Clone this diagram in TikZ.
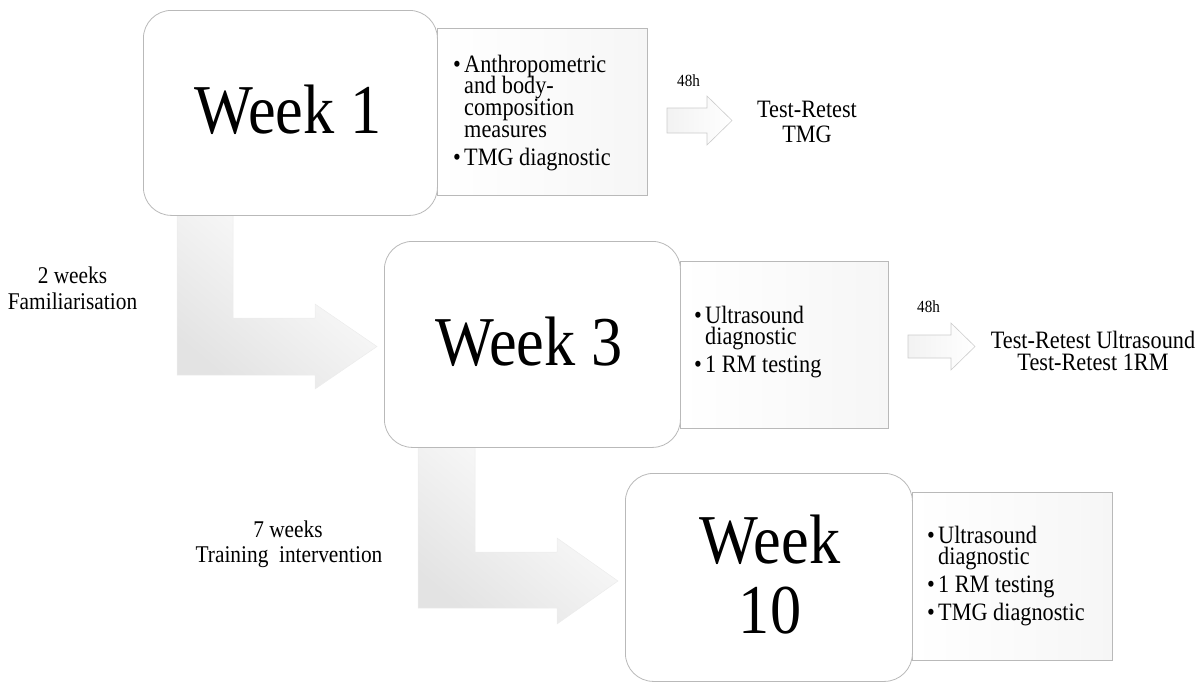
\documentclass[tikz,border=0pt]{standalone}
\usepackage{fontspec}
\setmainfont{Liberation Serif}[FakeStretch=0.89]
\newcommand{\lstfont}{\fontsize{25}{21.7}\selectfont\lineskiplimit=-\maxdimen\lineskip=0pt\raggedright}
\newcommand{\bul}{\makebox[11pt][l]{\textbullet}}
\newcommand{\ind}{\hspace*{11pt}}
\begin{document}
\begin{tikzpicture}[x=1pt,y=-1pt,
  wbox/.style={draw=gray!55, fill=white, rounded corners=28pt, line width=0.8pt, inner sep=0pt, anchor=north west},
  lbox/.style={draw=gray!55, line width=0.7pt, left color=white, right color=gray!7, inner sep=0pt, anchor=north west},
  larrow/.style={draw=gray!15, line width=0.5pt, top color=white, bottom color=gray!22, shading angle=-40},
  sarrow/.style={draw=gray!40, line width=0.6pt, left color=gray!10, right color=white},
  big/.style={font=\fontsize{70}{70}\selectfont, inner sep=0pt, anchor=base},
  mid/.style={font=\fontsize{25}{22}\selectfont, inner sep=0pt, anchor=base},
  lab/.style={font=\fontsize{24}{24}\selectfont, inner sep=0pt, anchor=base},
  tiny/.style={font=\fontsize{17}{17}\selectfont, inner sep=0pt, anchor=base west},
  lst/.style={inner sep=0pt, anchor=base west}
]
\useasboundingbox (0,0) rectangle (1200,689);

% L-shaped block arrows
\path[larrow] (177,212) -- (233,212) -- (233,318) -- (315,318) -- (315,304) -- (377,346.5)
  -- (315,389) -- (315,375) -- (177,375) -- cycle;
\path[larrow] (418,444) -- (475,444) -- (475,552) -- (557,552) -- (557,538) -- (618,581)
  -- (557,624) -- (557,608) -- (418,608) -- cycle;

% list boxes
\node[lbox, minimum width=210pt, minimum height=167pt] (l1) at (437,28) {};
\node[lbox, minimum width=208pt, minimum height=167pt] (l3) at (680,261) {};
\node[lbox, minimum width=200pt, minimum height=168pt] (l10) at (912,492) {};

% week boxes
\node[wbox, minimum width=294pt, minimum height=205pt] (w1) at (143,10) {};
\node[wbox, minimum width=296pt, minimum height=206pt] (w3) at (384,241) {};
\node[wbox, minimum width=287pt, minimum height=208pt] (w10) at (625,473) {};

% week texts
\node[big] (t1) at (288,133) {Week 1};
\node[big] (t3) at (529,365) {Week 3};
\node[big] (t10a) at (770,563) {Week};
\node[big] (t10b) at (770,633) {10};

% list texts
\node[lst] (b1) at (453,72) {\parbox[t]{190pt}{\lstfont
  \bul Anthropometric\\
  \ind and body-\\
  \ind composition\\
  \ind measures\\[6.3pt]
  \bul TMG diagnostic}};
\node[lst] (b3) at (694,323) {\parbox[t]{190pt}{\lstfont
  \bul Ultrasound\\
  \ind diagnostic\\[6.3pt]
  \bul 1 RM testing}};
\node[lst] (b10) at (927,543) {\parbox[t]{180pt}{\lstfont
  \bul Ultrasound\\
  \ind diagnostic\\[6.3pt]
  \bul 1 RM testing\\[6.3pt]
  \bul TMG diagnostic}};

% small arrows
\path[sarrow] (667,108) -- (707,108) -- (707,96) -- (732,120.5) -- (707,145) -- (707,133) -- (667,133) -- cycle;
\path[sarrow] (908,335) -- (951,335) -- (951,323) -- (975,346.5) -- (951,370) -- (951,358) -- (908,358) -- cycle;
\node[tiny] (h1) at (677,86) {48h};
\node[tiny] (h3) at (917,312) {48h};

% test-retest texts
\node[mid] (r1a) at (807,117) {Test-Retest};
\node[mid] (r1b) at (807,142) {TMG};
\node[mid] (r3a) at (1093,348) {Test-Retest Ultrasound};
\node[mid] (r3b) at (1093,370) {Test-Retest 1RM};

% side labels
\node[lab] (fa) at (72.5,283) {2 weeks};
\node[lab] (fb) at (72.5,309) {Familiarisation};
\node[lab] (ta) at (288,537) {7 weeks};
\node[lab] (tb) at (289,562) {Training\ \ intervention};
\end{tikzpicture}
\end{document}
